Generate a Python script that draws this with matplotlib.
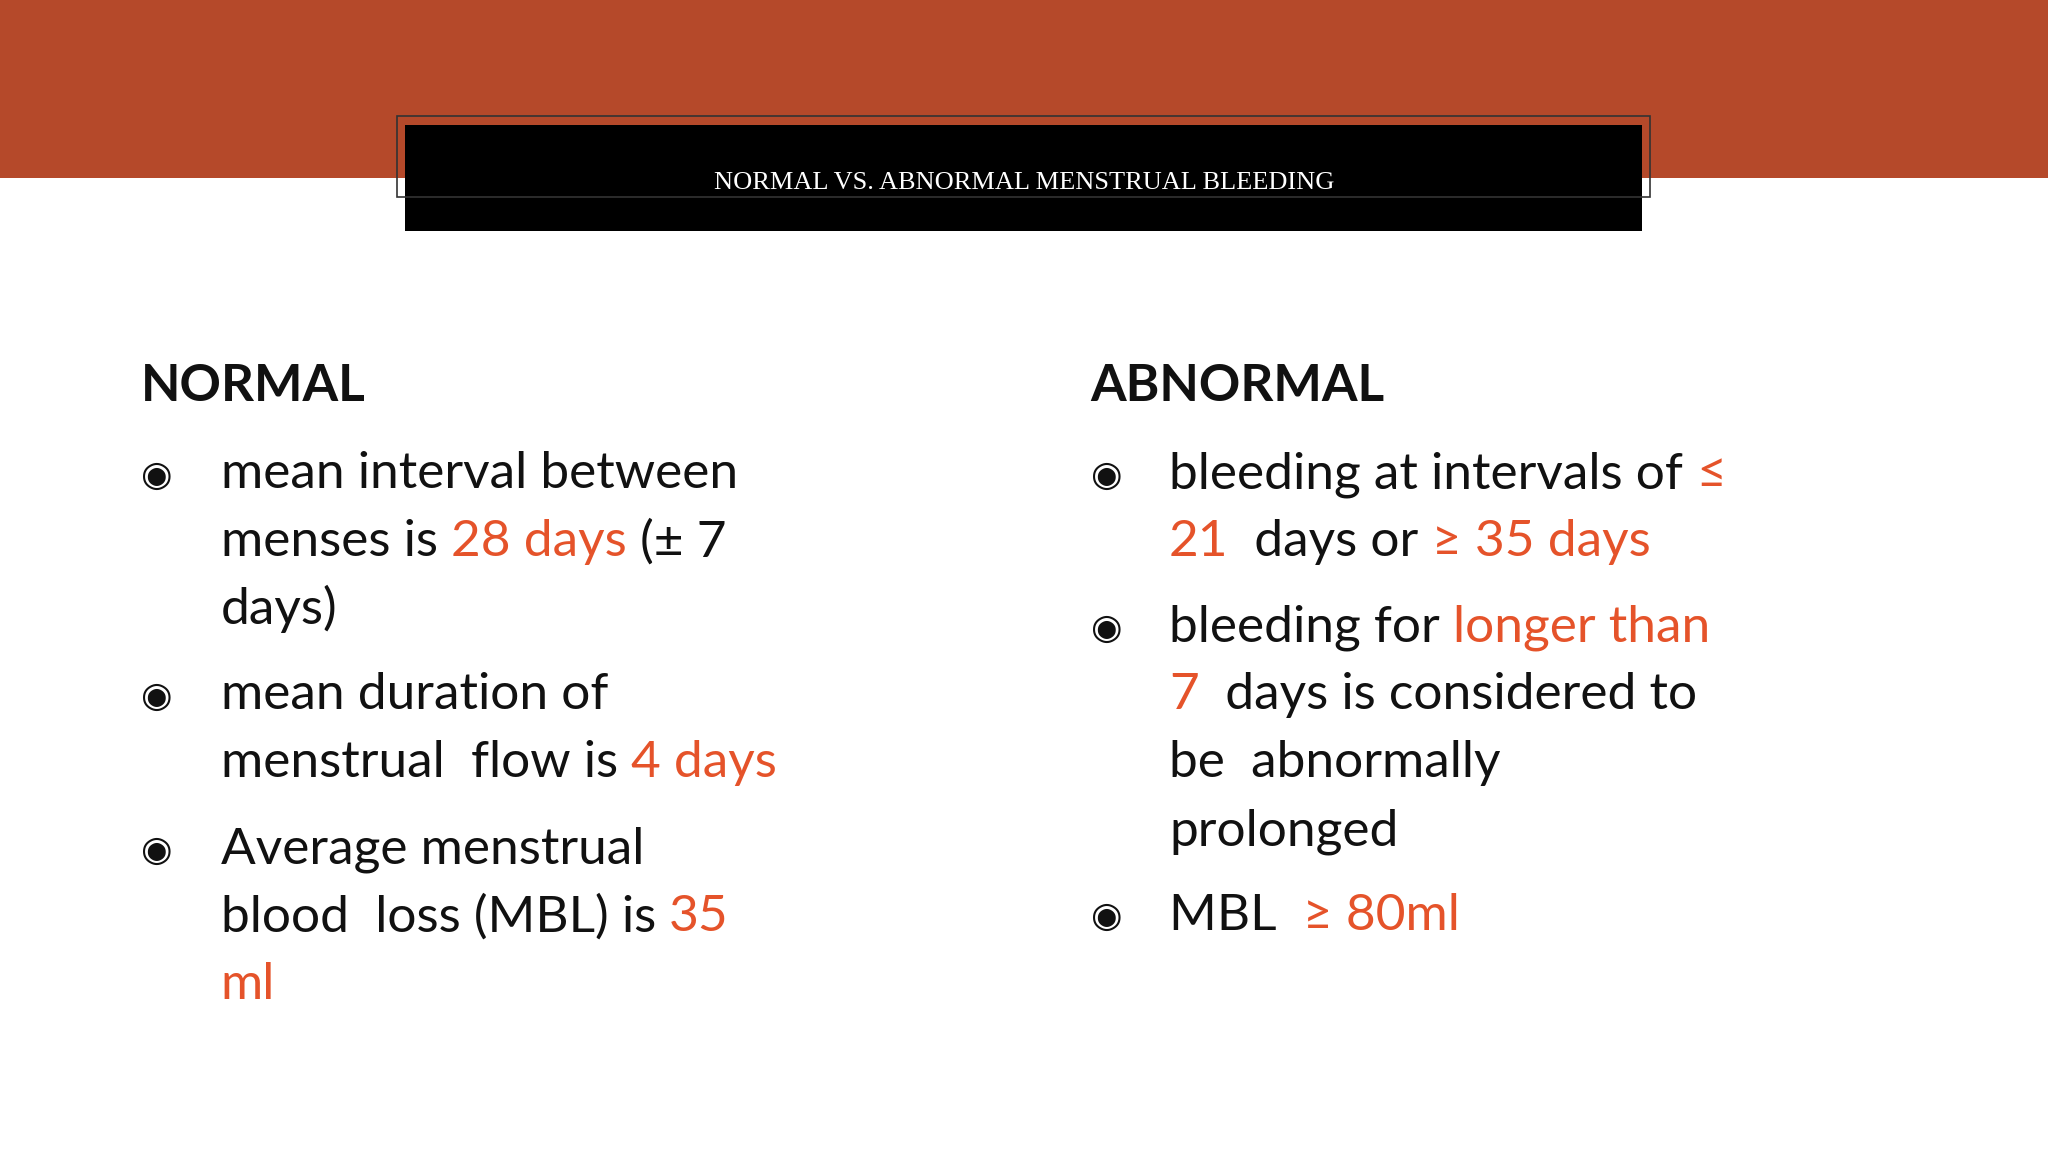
import matplotlib
matplotlib.use("Agg")
import matplotlib.pyplot as plt
from matplotlib.patches import Rectangle

W, H = 1568, 882
ORANGE = "#E5532A"
BAND = "#B5492A"
FONT = ["Lato", "DejaVu Sans"]
FS = 37

title = "NORMAL VS. ABNORMAL MENSTRUAL BLEEDING"
headings = ["NORMAL", "ABNORMAL"]
# each line: (column, baseline_y, bullet, [(text, highlighted)])
left_lines = [
    (374, True, [("mean interval between", False)]),
    (426, False, [("menses is ", False), ("28 days", True), (" (± 7", False)]),
    (478, False, [("days)", False)]),
    (543, True, [("mean duration of", False)]),
    (595, False, [("menstrual  flow is ", False), ("4 days", True)]),
    (661, True, [("Average menstrual", False)]),
    (713, False, [("blood  loss (MBL) is ", False), ("35", True)]),
    (765, False, [("ml", True)]),
]
right_lines = [
    (374, True, [("bleeding at intervals of ", False), ("≤", True)]),
    (426, False, [("21", True), ("  days or ", False), ("≥ 35 days", True)]),
    (491, True, [("bleeding for ", False), ("longer than", True)]),
    (543, False, [("7", True), ("  days is considered to", False)]),
    (595, False, [("be  abnormally", False)]),
    (647, False, [("prolonged", False)]),
    (712, True, [("MBL  ", False), ("≥ 80ml", True)]),
]

fig = plt.figure(figsize=(20.48, 11.52), dpi=100)
fig.patch.set_facecolor("white")

def fx(x): return x / W
def fy(y): return 1 - y / H

fig.add_artist(Rectangle((0, fy(136)), 1, 136 / H, transform=fig.transFigure, color=BAND, lw=0))
fig.add_artist(Rectangle((fx(310), fy(177)), (1257 - 310) / W, (177 - 96) / H,
                         transform=fig.transFigure, color="black", lw=0))
fig.add_artist(Rectangle((fx(304), fy(151)), (1263 - 304) / W, (151 - 89) / H,
                         transform=fig.transFigure, fill=False, ec="#333333", lw=1.2))
fig.text(fx(784), fy(145), title, color="white", ha="center", va="baseline",
         fontsize=19, family="Liberation Serif")

renderer = fig.canvas.get_renderer()

def draw_segments(x, y, segs):
    xpix = x / W * fig.bbox.width
    for txt, hl in segs:
        t = fig.text(xpix / fig.bbox.width, fy(y), txt, ha="left", va="baseline",
                     fontsize=FS, family=FONT, color=ORANGE if hl else "#111111")
        bb = t.get_window_extent(renderer)
        xpix = bb.x1

for hx, head, tx, lines in [(108, headings[0], 169, left_lines), (835, headings[1], 895, right_lines)]:
    fig.text(fx(hx), fy(307), head, ha="left", va="baseline", fontsize=FS, fontweight="bold",
             family=FONT, color="#111111")
    for y, bullet, segs in lines:
        if bullet:
            fig.text(fx(hx), fy(y - 2), "◉", ha="left", va="baseline", fontsize=26,
                     family=["DejaVu Sans"], color="#111111")
        draw_segments(tx, y, segs)

fig.savefig("out.png", dpi=100)
